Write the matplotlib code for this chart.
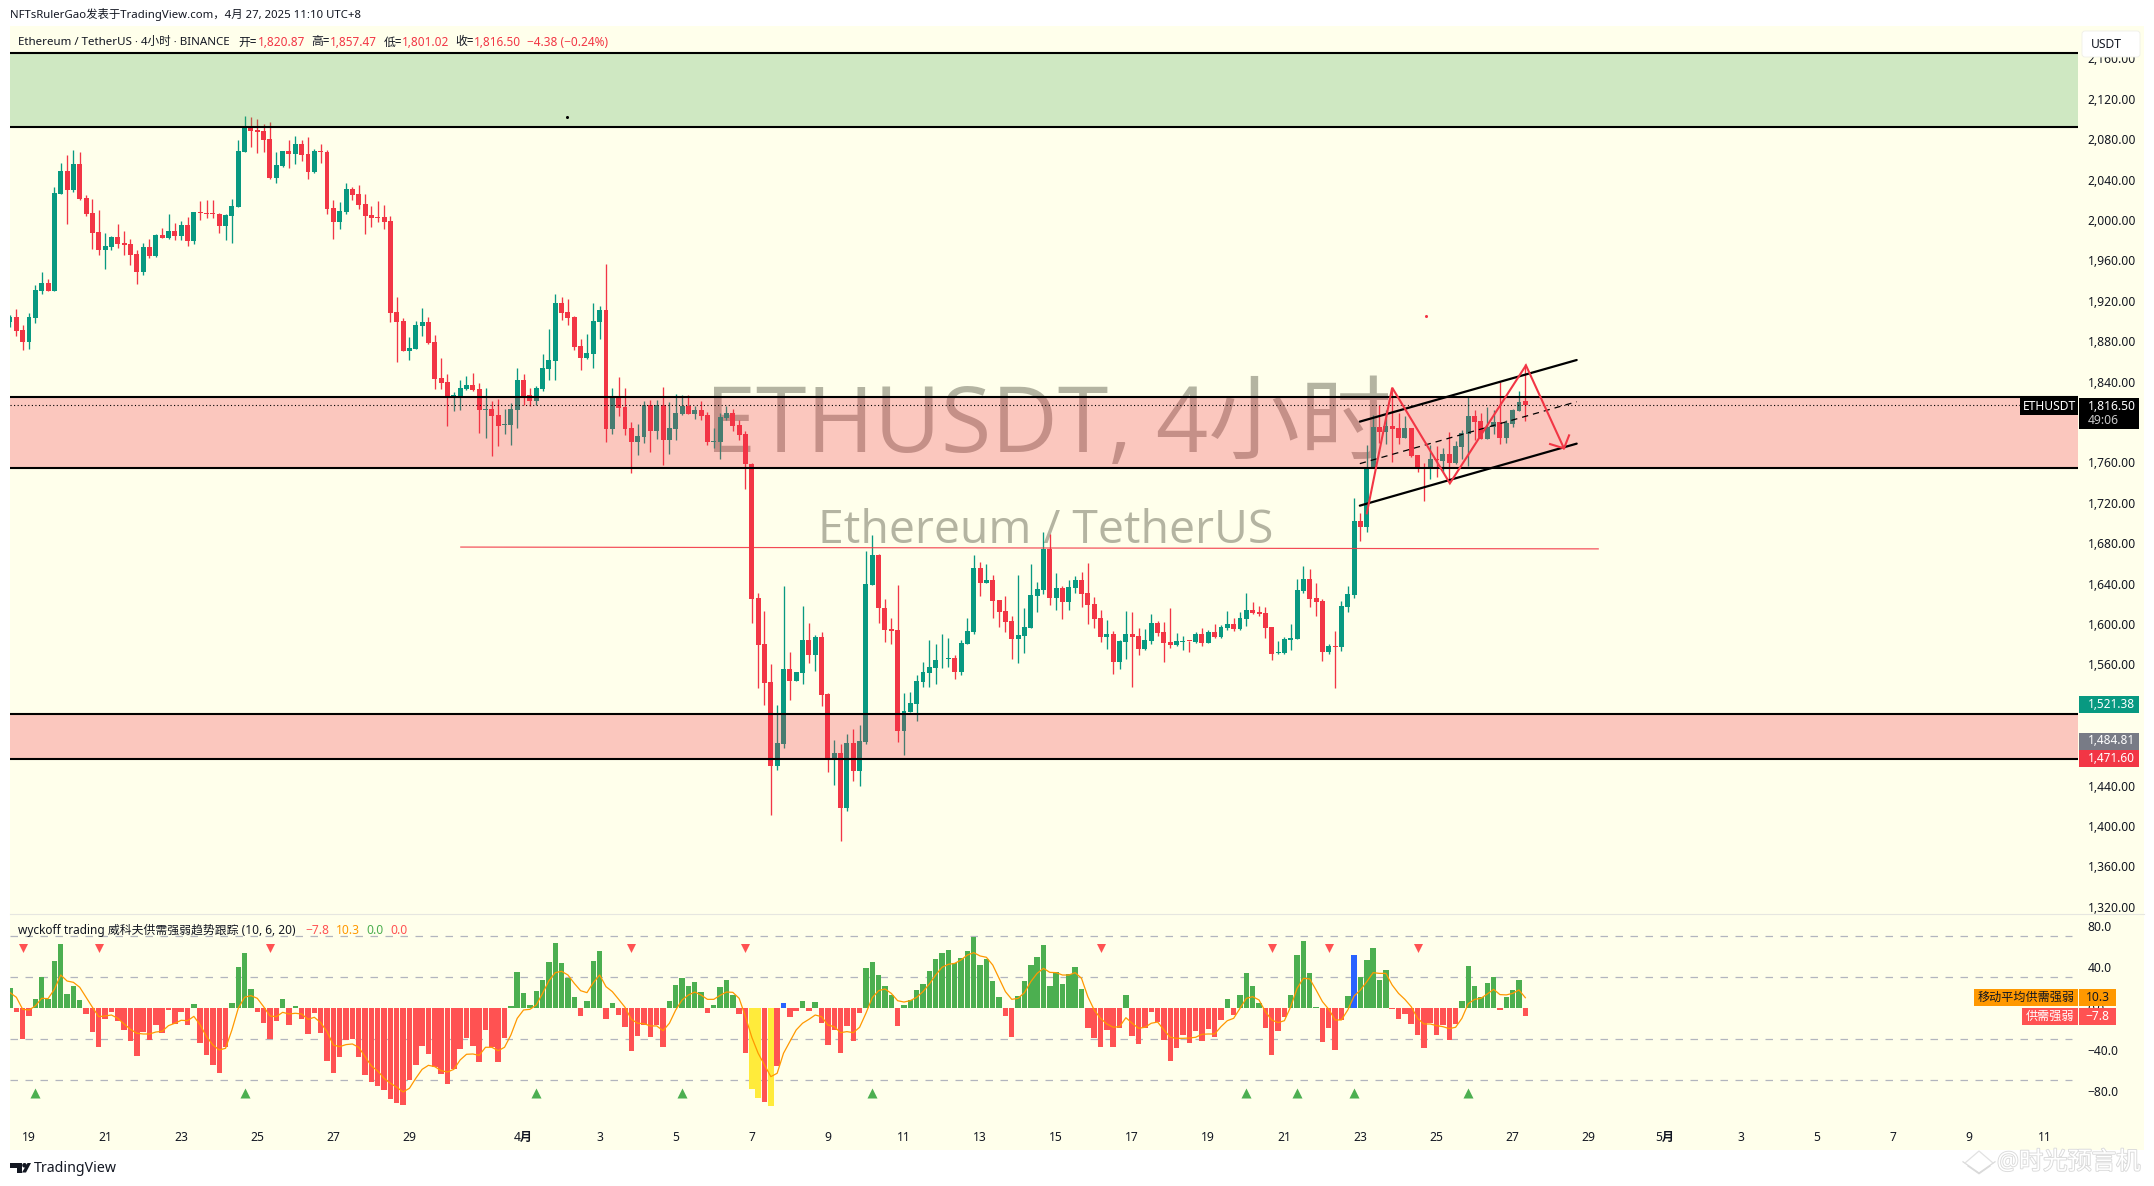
import matplotlib
matplotlib.use("Agg")
import matplotlib.pyplot as plt
from matplotlib.patches import Rectangle, FancyBboxPatch, Polygon, Circle
import matplotlib.patheffects as pe

FONT = ['Noto Sans', 'Noto Sans CJK SC', 'DejaVu Sans']
plt.rcParams['font.family'] = FONT
plt.rcParams['axes.unicode_minus'] = True

GREEN = '#089981'
RED = '#F23645'
CREAM = '#FFFFEB'
INK = '#131722'

opens = [1899,1904,1891,1879,1903,1929.6,1937.5,1929.6,2026,2048.4,
2029.6,2055.3,2021.7,2006.8,1987.7,1970.2,1973.2,1983,1977,1976,
1966,1948.4,1973,1964,1985,1982,1989,1984,1995,1979,
2008,2007,2007,2005.8,1994,2004,2012.8,2067,2091,2089,
2088,2080,2041.5,2053,2068,2065,2075,2065,2047.4,2068,
2067,2011.8,1998,2007.8,2030.6,2025.6,2015.7,2004.9,2002.9,2002.9,
1999,1908.8,1899.9,1870.2,1872.2,1895,1898.9,1879,1843.5,1839.5,
1824.7,1825.7,1832.6,1836.6,1832.6,1811.8,1812.8,1806.9,1796.9,1796.9,
1811.8,1841.5,1826.7,1820.7,1832.6,1852.4,1860.3,1917.7,1908.8,1903.9,
1875.2,1863.3,1867.2,1898.9,1910.8,1793,1825,1814.8,1794,1780,
1785,1816.7,1791,1816.7,1782,1793,1807.8,1815.8,1807.8,1811.8,
1806.9,1780,1780,1804,1808.4,1797,1788,1758.3,1625.8,1580,
1542.6,1459,1481.2,1555.5,1543.8,1551.5,1584.2,1569.2,1587,1530.8,
1465,1472.3,1417.3,1482.4,1454,1483.2,1638.7,1668.2,1615.7,1595,
1594.3,1494,1513,1520.7,1542.6,1551.5,1556.3,1564.8,1564.8,1566.4,
1552.7,1580.1,1591.8,1655.3,1640.7,1643.6,1623.8,1612.9,1603.2,1585,
1588.2,1595.9,1627.4,1633.5,1674.3,1625.8,1635.6,1621.7,1635.6,1643.5,
1630.6,1619.7,1605.9,1587.1,1590,1562.3,1582.1,1590,1588,1575.2,
1583.1,1600.9,1592,1582.1,1579.2,1582.4,1583.4,1582.1,1590,1581.1,
1592,1587.1,1596,1599.9,1595,1604.9,1613.8,1611.8,1610.8,1597,
1571.2,1571.2,1584.1,1585.1,1632.6,1644.5,1625.7,1622.7,1572.2,1578.2,
1577.2,1616.8,1628.6,1701.9,1696,1754,1795,1790,1796,1794,
1784.1,1794,1767.3,1755.4,1754.4,1763.3,1761.3,1768.2,1759.3,1775.2,
1788,1805.9,1800.9,1783.1,1795,1799.9,1784.1,1797.9,1810.8,1820.87]

highs = [1906,1912,1896,1908,1935.5,1948.7,1942,2033,2056,2064,
2069,2067,2024.7,2020.7,2009.8,1986.7,1984,1996,1989.3,1981,
1970,1977,1981,1986,1992,2006,1996.6,1999,2003,2008,
2018.7,2019.7,2019.7,2006.5,2005.8,2020.7,2079,2102.9,2102,2100,
2095,2097,2067,2068,2079,2083,2079,2082,2070,2075,
2069,2019.7,2017.7,2036.5,2032.6,2034.5,2025.6,2013.8,2018.7,2014.7,
2003.9,1923.7,1902.9,1884,1899.9,1912.8,1903.9,1886,1863.3,1847.4,
1829.6,1841.5,1845.5,1848,1838.5,1833.6,1820.7,1822.7,1812.8,1818.7,
1853,1847.4,1833.6,1835.6,1867.2,1892,1926.6,1923.7,1921.7,1904.9,
1882,1887,1917.7,1914.8,1956.3,1833.6,1844.5,1833.6,1800,1798,
1820.7,1821.7,1821.7,1834.6,1819.7,1827.6,1826.7,1826.7,1815.8,1820.7,
1810,1793.5,1808.4,1815.7,1812.4,1801.5,1791,1759.5,1630.2,1612.9,
1560,1519.5,1637.5,1572,1552.7,1617.7,1601.1,1589,1592.3,1531.7,
1485.2,1481.2,1491.3,1496,1500.1,1672.3,1688,1669,1624.6,1606,
1638.7,1531.7,1532.9,1549.4,1562,1584.2,1580,1590.2,1586.2,1568.8,
1584.2,1606,1668.2,1661.3,1659.3,1648,1623.8,1627.8,1607.6,1648.4,
1615.7,1659.3,1641.5,1691.2,1689.2,1650.4,1637.6,1643.5,1647.5,1651.4,
1660.3,1626.7,1613.8,1603.9,1593,1584.1,1612.8,1611.8,1596,1595,
1609.8,1602.9,1601.9,1615.8,1591,1588,1583.4,1592,1596,1594,
1599.9,1599,1612.8,1605.9,1611.8,1630.6,1621.7,1617.8,1616.8,1597,
1583.1,1587.1,1599.9,1644.5,1657.4,1654.4,1640.5,1624.7,1580.1,1593,
1622.7,1637.6,1724.7,1709.8,1777,1806.9,1816.8,1811.8,1833.6,1808.8,
1805.9,1794,1767.3,1759.3,1777.1,1776.1,1774.2,1790,1781.1,1792,
1825.7,1811.8,1808.8,1814.8,1811.8,1839.5,1801.9,1812.8,1830.6,1857.47]

lows = [1894,1885,1871,1872,1898,1927,1929.6,1929.6,2026,1996,
2028,2019.7,2004.2,1971,1965.3,1951.7,1970,1972.5,1965,1955,
1936.5,1945.5,1962,1963,1982,1981,1980,1980,1974,1976,
1999.9,2001.9,2002,1987,1980,1977,2012.8,2067,2072,2066,
2067,2040.5,2036.5,2052,2051,2055,2058,2041,2046,2056,
2005.8,1981,1991,2005.8,2019.7,2010.8,1986,1993,1998,1991,
1898.9,1859.3,1870.2,1861.3,1872.2,1885,1877,1832.6,1832.6,1796,
1811.1,1811.8,1831.6,1831,1788.7,1784,1766.3,1776,1788,1777,
1794,1816.7,1815.8,1816.7,1830.6,1841.5,1841.5,1900.9,1895.9,1871.2,
1851.4,1862.3,1853.4,1882,1780,1788,1805.9,1787,1749.8,1767,
1779,1770,1783,1757,1768,1782,1806.9,1807.8,1802.9,1801.9,
1777,1774,1763,1801.5,1791,1782,1733.7,1601,1536.5,1519.5,
1410.5,1455,1477,1524.8,1543.8,1540.5,1561.6,1553.5,1518.3,1453.7,
1440.8,1384.6,1414.5,1444.8,1440,1481.2,1638.7,1601.1,1582.2,1580,
1483.2,1470.2,1513,1504.2,1537.7,1537.7,1540.5,1556,1557.5,1545.4,
1549.4,1580,1589.8,1627.4,1640.7,1606,1597,1592.3,1565,1561.6,
1571.2,1595.9,1611.7,1629.4,1618.9,1614.1,1604.9,1613.8,1630.6,1617.1,
1599.9,1596,1582.1,1575.2,1550.4,1555.4,1565.3,1537.6,1569.3,1574.2,
1580.1,1588,1562.3,1576.2,1578.2,1574.2,1572.2,1581.1,1578.2,1581.1,
1586.1,1586.1,1594,1593,1594,1598,1609.8,1607.9,1586.1,1564.3,
1570.2,1570.2,1574.2,1585.1,1630.6,1616.8,1607.9,1563.3,1570.2,1536.6,
1573.2,1611.8,1625.7,1682.1,1691,1754,1778.8,1778.1,1760.3,1778.1,
1784,1765.6,1750.4,1721.7,1743.5,1745.5,1750.4,1742.5,1758.3,1763.3,
1756.4,1782.1,1783.1,1783,1788,1778.1,1779.1,1795,1810.8,1801.02]

closes = [1904,1890,1879,1904,1931,1937.5,1929.6,2026.6,2048.4,2029.6,
2055.3,2020.7,2006,1987.4,1970.2,1974.2,1983,1976,1975,1965,
1948.4,1973,1964,1985,1982,1989,1984,1995,1979,2008,
2007,2006,2006,1994,2004.9,2013.8,2068.2,2091,2088,2087,
2079,2041.5,2054,2068,2065,2075,2064,2047.4,2068,2067,
2010.8,1998,2008.8,2030.6,2024.6,2014.7,2003.9,2001.9,2001.9,1998,
1907.8,1898.9,1870.2,1873.2,1896,1898.9,1878,1842.5,1838.5,1825.7,
1826.7,1833.6,1836.6,1831.6,1811.8,1812.8,1805.9,1795.9,1797.9,1812.8,
1841.5,1825.7,1820.7,1833.6,1853.4,1861.3,1917.7,1907.8,1902.9,1874.2,
1863.3,1868.2,1899.9,1910.8,1793,1823.7,1813.8,1793,1780,1786,
1816.7,1791,1816.7,1782,1794,1808.8,1815.8,1807.8,1811.8,1805.9,
1780,1781.3,1804.4,1808.4,1796.3,1787,1757.9,1624.6,1579.3,1541.8,
1459,1482,1555.5,1543.8,1552.7,1584.2,1569.2,1587,1529.6,1465,
1472.3,1417.3,1482.4,1454,1484.4,1639.5,1668.2,1615.3,1594.3,1593,
1494,1513.5,1522,1543.8,1552.7,1557.5,1564,1565.6,1566.4,1552.7,
1581.4,1593,1655.3,1640.7,1643.6,1623,1611.7,1602,1585,1589,
1597.1,1628.6,1634.7,1674.3,1625.8,1635.5,1621.7,1636.6,1643.5,1629.6,
1618.8,1604.9,1587.1,1590,1562.3,1583.1,1590,1587.1,1575.2,1584.1,
1600.9,1591,1581.1,1579.2,1583.1,1583.1,1582.8,1590,1581.1,1592,
1587.1,1597,1599.9,1595,1605.9,1613.8,1610.8,1609.8,1596,1570.2,
1572.2,1585.1,1586.1,1633.6,1644.5,1624.7,1621.7,1572.2,1578.2,1577.5,
1617.8,1629.6,1701.9,1696,1754,1795,1790,1796,1793,1784.1,
1794,1766.3,1755.4,1754.4,1763.3,1762.3,1768.2,1759.3,1776.2,1789,
1805.9,1799.9,1783.1,1795,1799.9,1784.1,1798.9,1811.8,1819.7,1816.50]

supply_demand = [19.4,-3.2,-29.7,-7.1,9,30,9,46,62.4,14,
21.7,8,-5.2,-23,-37.5,-10,-3.2,-12,-21,-31.7,
-46,-23,-30.7,-16,-24,-1.6,-15,-3.5,-16,4.2,
-33.6,-45,-55,-62.7,-37.5,5.2,40,53.7,18.8,-3.5,
-14.2,-29.7,-12.3,9,-16,2.3,-10.3,-25,-4.5,-24,
-51,-62.7,-47,-30.7,-29.7,-47,-64.7,-71.4,-75.3,-79.2,
-88,-91.8,-93.8,-69.5,-55,-36.5,-44.3,-57,-63.7,-73.4,
-58.8,-39.4,-28.8,-36.5,-52,-21,-37.5,-52,-28.8,2.3,
35.2,14.9,3.2,16.8,27.5,45,63.4,44,29.4,11,
-7.4,7,46,55.6,-10.3,5.2,-6.5,-18,-41.4,-26.8,
-16,-27.8,-16,-37.5,7,22.6,29.4,21.7,25.5,15.8,
-4.5,3.2,20.7,27.5,12.9,-5.5,-43.3,-78.2,-87,-90.8,
-94.7,-55.9,5.2,-8.4,-2.6,7.1,-2.6,6.1,-14.2,-35.6,
-21,-43.3,-17.1,-31.7,-4.5,39.1,44.9,32.3,21.7,12.9,
-17.1,3.2,8.1,17.8,23.6,36.2,47.8,53.7,56.6,44,
48.8,55.6,69.2,42,47.8,26.5,11,-7.4,-27.8,12,
26.5,42,49.8,61.4,21.7,35.2,23.6,33.3,40.1,18.8,
-19.1,-28.8,-37.5,-21,-37.5,-19.1,12.9,-26.8,-34.6,-19.1,
-3.6,-13.3,-30.7,-51.1,-38.5,-25.9,-33.6,-22,-31.7,-20,
-27.8,-11.3,9.1,-6.5,12.9,34.3,21.7,5.2,-19.1,-45.3,
-22,-8.4,12.9,51.7,65.3,34.3,1.3,-32.7,-19.1,-40.4,
-11.3,12,51.7,30.4,46.9,58.5,27.5,37.2,-0.6,-10.3,
-5.5,-15.2,-25.9,-38.5,-14.2,-25.9,-16.5,-30.7,-15,7,
41,21.7,11,24.6,30.4,-1.6,11,17.8,27.5,-7.8]

supply_demand_ma = [15.2,10.7,-1,-1.6,2.3,9.7,9.4,18.4,32.3,26.5,
25.2,20.4,10.7,1,-8.1,-7.4,-6.5,-9.7,-15.2,-20.4,
-24.2,-24.9,-24.9,-23,-22.3,-16.8,-14.5,-11.6,-12,-7.8,
-16.2,-27.5,-35.6,-40.4,-38.8,-21,0,10.7,12.3,9.7,
1.6,-7.4,-8.1,-3.9,-5.5,-4.8,-5.5,-10.7,-8.7,-13.9,
-22.6,-35.6,-37.2,-35.2,-34.6,-37.8,-46.9,-55.9,-60.8,-67.9,
-72.7,-76.6,-81.1,-77.6,-67.9,-59.2,-55.3,-56.6,-60.5,-61.8,
-59.2,-50.1,-44.6,-44.3,-45.6,-37.8,-37.8,-41.1,-37.8,-25.9,
-9.7,-1.6,-1,3.2,14.5,26.8,34.6,35.9,32.3,24.2,
17.1,15.2,24.9,32.3,21,16.2,8.7,1,-10.7,-14.5,
-14.9,-17.1,-17.1,-21.7,-14.5,-1.6,8.1,12.9,15.8,12.9,
8.7,8.7,12.6,15.8,15.5,9.7,-8.1,-28.1,-43.6,-55,
-66.3,-63,-43.6,-32.3,-21,-14.5,-10.7,-6.5,-8.1,-16.2,
-17.8,-23.6,-22.6,-23.6,-18.4,-4.8,10.3,17.1,18.8,14.5,
7.4,6.1,7.4,10.7,16.2,23.6,32.3,39.8,42.7,43.6,
46.9,51.7,54,50.8,49.5,42,29.1,16.2,8.7,9.7,
15.2,25.9,33.9,38.8,34.9,34.6,32.3,32.3,34.6,29.1,
11.3,-1.6,-9.7,-15.2,-18.4,-17.8,-9.1,-14.5,-19.4,-18.4,
-14.5,-13.3,-21,-28.1,-29.1,-29.1,-28.8,-28.1,-25.2,-24.9,
-24.9,-17.8,-12,-9.7,0,9.7,11.3,8.1,-3.2,-11.3,
-13.9,-12,1.6,19.4,29.1,28.5,17.8,6.5,-1,-11.3,
-11.3,-1.6,12,17.8,25.9,34.6,33.9,33.9,22.6,14.5,
8.7,1.6,-9.7,-15.2,-15.2,-16.8,-17.8,-19.7,-18.4,-9.7,
4.5,8.7,9.7,13.9,18.4,13.3,13,14.5,17.8,10.3]

yellow_bars = [117, 118, 120]
blue_bars = [122, 212]
sell_signals = [2, 14, 41, 98, 116, 172, 199, 208, 222]
buy_signals = [4, 37, 83, 106, 136, 195, 203, 212, 230]

date_ticks = [3,15,27,39,51,63,81,93,105,117,129,141,153,165,177,189,201,213,225,237,249,261,273,285,297,309,321]
date_labels = ['19','21','23','25','27','29','4月','3','5','7','9','11','13','15','17','19','21','23','25','27','29','5月','3','5','7','9','11']
bold_dates = ['4月', '5月']

price_ticks = [2160,2120,2080,2040,2000,1960,1920,1880,1840,1760,1720,1680,1640,1600,1560,1440,1400,1360,1320]
osc_ticks = [80,40,0,-40,-80]
osc_levels = [70,30,-30,-70]

green_zone = (2092.3, 2165.6)
pink_zones = [(1754.6, 1825.0), (1466.3, 1511.0)]
last_price = 1816.50

channel_x = [212.9, 247.1]
channel_up = [1800.3, 1861.3]
channel_mid = [1758.7, 1820.0]
channel_low = [1717.1, 1778.5]
zig_x = [214, 218, 227.1, 239.1, 245.1]
zig_p = [1709.5, 1833.9, 1739.2, 1856.0, 1773.8]
head_x = [242.9, 245.1, 245.9]
head_p = [1778.1, 1773.8, 1786.7]
hline_x = [71.1, 250.5]
hline_p = [1676.1, 1674.3]
dots = [(87.9, 2102.0, 'black'), (223.3, 1904.5, RED)]

W, H = 2154, 1186
fig = plt.figure(figsize=(W/100, H/100), dpi=100, facecolor='white')

def axes_px(x0, y0, x1, y1, **kw):
    return fig.add_axes([x0/W, 1-y1/H, (x1-x0)/W, (y1-y0)/H], **kw)

bg = axes_px(0, 0, W, H, zorder=0)
bg.set_xlim(0, W); bg.set_ylim(H, 0); bg.axis('off')
bg.add_patch(Rectangle((10, 26), 2134, 1124, fc=CREAM, ec='none'))

main = axes_px(10, 26, 2078, 914, zorder=1, facecolor=CREAM)
osc = axes_px(10, 914, 2078, 1125, zorder=1, facecolor=CREAM)
ov = axes_px(0, 0, W, H, zorder=5)
ov.set_xlim(0, W); ov.set_ylim(H, 0); ov.axis('off'); ov.patch.set_alpha(0)

XMAX = 326.17
for a in (main, osc):
    a.set_xlim(0, XMAX)
    for s in a.spines.values():
        s.set_visible(False)
main.set_ylim(1312.8, 2192)
osc.set_ylim(-113.2, 91.5)

# watermark under the candles
main.text(705, 428, 'ETHUSDT, 4小时', transform=ov.transData, fontsize=66, color='#4C4C3C',
          alpha=0.42, va='center', ha='left', zorder=0.5, family=['Open Sans', 'Noto Sans CJK SC'])
main.text(818, 531, 'Ethereum / TetherUS', transform=ov.transData, fontsize=33.4, color='#4C4C3C',
          alpha=0.42, va='center', ha='left', zorder=0.5, family=['Open Sans', 'Noto Sans CJK SC'])

# candles
xs = list(range(len(opens)))
colors = [GREEN if c >= o else RED for o, c in zip(opens, closes)]
main.vlines(xs, lows, highs, colors=colors, lw=0.95, zorder=2)
main.bar(xs, [max(abs(c-o), 0.9) for o, c in zip(opens, closes)],
         bottom=[min(o, c) for o, c in zip(opens, closes)], width=0.78, color=colors, lw=0, zorder=2.1)

# zones sit over the candles
main.axhspan(*green_zone, color='#51AA57', alpha=0.27, lw=0, zorder=3)
for z in pink_zones:
    main.axhspan(*z, color='#F33145', alpha=0.27, lw=0, zorder=3)
for lvl in [*green_zone, *[v for z in pink_zones for v in z]]:
    main.axhline(lvl, color='black', lw=1.5, zorder=4)

main.hlines(last_price, 0, 317, color='black', lw=0.8, linestyles=(0, (1, 2.2)), zorder=4)
main.plot(hline_x, hline_p, color=RED, lw=0.85, alpha=0.9, zorder=4)
main.plot(channel_x, channel_up, color='black', lw=1.6, zorder=5, solid_capstyle='round')
main.plot(channel_x, channel_low, color='black', lw=1.6, zorder=5, solid_capstyle='round')
main.plot(channel_x, channel_mid, color='black', lw=0.9, ls=(0, (5, 4)), zorder=5)
main.plot(zig_x, zig_p, color=RED, lw=1.5, zorder=6, solid_joinstyle='miter')
main.plot(head_x, head_p, color=RED, lw=1.5, zorder=6)
for dx, dp, dc in dots:
    main.plot([dx], [dp], marker='o', ms=1.2, color=dc, zorder=6)

main.set_xticks([])
main.yaxis.tick_right()
main.set_yticks(price_ticks)
main.set_yticklabels([f'{v:,.2f}' for v in price_ticks], fontsize=8.7, color=INK)
main.tick_params(axis='y', length=0, pad=6.8)

# oscillator
bar_colors = []
for i, v in enumerate(supply_demand):
    if i in yellow_bars:
        bar_colors.append('#FFEB3B')
    elif i in blue_bars:
        bar_colors.append('#2962FF')
    elif v >= 0:
        bar_colors.append('#4CAF50')
    else:
        bar_colors.append('#FF5252')
osc.bar(xs, supply_demand, width=0.86, color=bar_colors, lw=0, zorder=2)
for lvl in osc_levels:
    osc.axhline(lvl, xmax=0.997, color='#B2B5BE', lw=0.9, ls=(0, (6, 6)), zorder=1)
osc.plot(xs, supply_demand_ma, color='#FF9800', lw=0.9, zorder=3)
osc.scatter(sell_signals, [58.7]*len(sell_signals), marker='v', s=42, color='#FF5252', lw=0, zorder=4)
osc.scatter(buy_signals, [-82.3]*len(buy_signals), marker='^', s=52, color='#4CAF50', lw=0, zorder=4)

osc.yaxis.tick_right()
osc.set_yticks(osc_ticks)
osc.set_yticklabels([f'{v:.1f}'.replace('-', '\u2212') for v in osc_ticks], fontsize=8.7, color=INK)
osc.tick_params(axis='y', length=0, pad=6.8)
osc.set_xticks(date_ticks)
osc.set_xticklabels(date_labels, fontsize=8.7, color=INK)
osc.tick_params(axis='x', length=0, pad=4.5)
for t in osc.get_xticklabels():
    if t.get_text() in bold_dates:
        t.set_fontweight('bold')

# separator
ov.plot([10, 2144], [914, 914], color='#E6E6E0', lw=0.8)

# --- header and legends
def txt(x, y, s, color=INK, size=8.7, weight='normal', ha='left', **kw):
    return ov.text(x, y, s, color=color, fontsize=size, fontweight=weight, ha=ha, va='center', **kw)

txt(10, 14.7, 'NFTsRulerGao发表于TradingView.com，4月 27, 2025 11:10 UTC+8', size=8.2)
txt(17.5, 42, 'Ethereum / TetherUS · 4小时 · BINANCE', size=8.3)
for x, s, c in [(238.8, '开=', INK), (257.6, '1,820.87', RED), (310.8, '高=', INK), (329.7, '1,857.47', RED),
                (383.4, '低=', INK), (401.7, '1,801.02', RED), (455.5, '收=', INK), (473.8, '1,816.50', RED),
                (527, '\u22124.38 (\u22120.24%)', RED)]:
    txt(x, 42, s, color=c, size=8.5)

txt(17.9, 930, 'wyckoff trading 威科夫供需强弱趋势跟踪 (10, 6, 20)', size=8.55)
for x, s, c in [(305.4, '\u22127.8', '#FF5252'), (336, '10.3', '#FF9800'), (366, '0.0', '#4CAF50'), (390.6, '0.0', '#FF5252')]:
    txt(x, 930, s, color=c)

# --- price-axis tags
def tag(x0, y0, x1, y1, color):
    ov.add_patch(Rectangle((x0, y0), x1-x0, y1-y0, fc=color, ec='none', zorder=2))

ov.add_patch(FancyBboxPatch((2082, 31), 58, 26, boxstyle='round,pad=0,rounding_size=3', fc='white', ec='#EFEFE8', lw=0.6, zorder=2))
txt(2091, 44.5, 'USDT', zorder=3)

tag(2020, 398, 2078, 415, 'black')
txt(2049, 406.5, 'ETHUSDT', color='white', weight='bold', ha='center', zorder=3)
tag(2079, 398, 2139, 429, 'black')
txt(2087.5, 406.5, f'{last_price:,.2f}', color='white', weight='bold', zorder=3)
txt(2087.5, 420, '49:06', color='#C8C8C8', zorder=3)
tag(2079, 696, 2139, 713, GREEN)
txt(2087.5, 704, '1,521.38', color='white', weight='semibold', size=8.5, zorder=3)
tag(2079, 733, 2139, 750, '#787B86')
txt(2087.5, 741, '1,484.81', color='white', weight='semibold', size=8.5, zorder=3)
tag(2079, 750, 2139, 767, RED)
txt(2087.5, 758.5, '1,471.60', color='white', weight='semibold', size=8.5, zorder=3)

tag(1974, 989, 2078, 1006, '#FF9800')
tag(2079, 989, 2116, 1006, '#FF9800')
txt(2026, 997.5, '移动平均供需强弱', color=INK, ha='center', zorder=3)
txt(2097.5, 997.5, '10.3', color=INK, ha='center', zorder=3)
tag(2022, 1008, 2078, 1025, '#FF5252')
tag(2079, 1008, 2116, 1025, '#FF5252')
txt(2050, 1016.5, '供需强弱', color='white', ha='center', zorder=3)
txt(2097.5, 1016.5, '\u22127.8', color='white', ha='center', zorder=3)

# --- TradingView logo
ov.add_patch(Polygon([(10, 1163), (22, 1163), (22, 1172.5), (16.5, 1172.5), (16.5, 1167.5), (10, 1167.5)], fc=INK, ec='none'))
ov.add_patch(Circle((24.5, 1165.3), 2.3, fc=INK, ec='none'))
ov.add_patch(Polygon([(27.5, 1163), (31, 1163), (26, 1172.5), (22, 1172.5)], fc=INK, ec='none'))
txt(33.5, 1168, 'TradingView', size=10.2)

# --- repost watermark, bottom right
stroke = [pe.withStroke(linewidth=1.3, foreground='#DADADA')]
txt(1997, 1163, '@时光预言机', color='white', size=17.5, path_effects=stroke,
    family=['Noto Sans', 'Noto Sans CJK SC'], zorder=4)
for top, half in [(1153, 16), (1160, 11)]:
    ov.plot([1979-half, 1979, 1979+half], [top+half*0.55, top+half*0.55+half*0.7, top+half*0.55], color='#DADADA', lw=0.9, zorder=4)
ov.plot([1979-14, 1979, 1979+14], [1163, 1151, 1163], color='#E2E2E2', lw=0.9, zorder=4)
ov.add_patch(Rectangle((2145, 1150), 9, 36, fc='white', ec='none', zorder=5))

fig.savefig('out.png', dpi=100, facecolor='white')
assert all(len(v) == 240 for v in (opens, highs, lows, closes, supply_demand, supply_demand_ma)), \
    [len(v) for v in (opens, highs, lows, closes, supply_demand, supply_demand_ma)]
